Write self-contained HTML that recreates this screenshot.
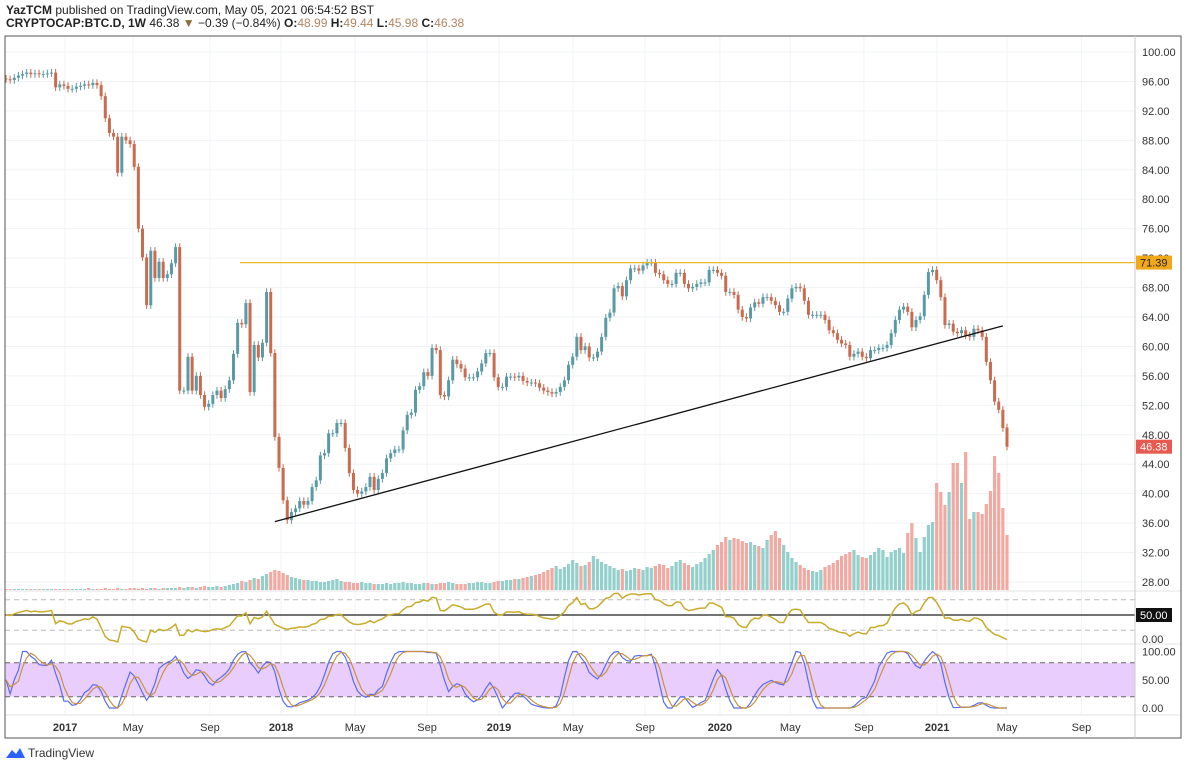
<!DOCTYPE html>
<html><head><meta charset="utf-8"><style>
html,body{margin:0;padding:0;background:#fff;}
body{width:1186px;height:768px;overflow:hidden;font-family:"Liberation Sans",sans-serif;}
svg text{font-family:"Liberation Sans",sans-serif;}
</style></head><body>
<svg id="chart" width="1186" height="768" viewBox="0 0 1186 768" xmlns="http://www.w3.org/2000/svg">
<text x="6" y="14" font-size="12" fill="#222"><tspan font-weight="bold">YazTCM</tspan> published on TradingView.com, May 05, 2021 06:54:52 BST</text>
<text x="6" y="27" font-size="12" fill="#222"><tspan font-weight="bold">CRYPTOCAP:BTC.D, 1W</tspan> 46.38 <tspan fill="#8d6e3b">▼</tspan> −0.39 (−0.84%) <tspan font-weight="bold">O:</tspan><tspan fill="#b08560">48.99</tspan> <tspan font-weight="bold">H:</tspan><tspan fill="#b08560">49.44</tspan> <tspan font-weight="bold">L:</tspan><tspan fill="#b08560">45.98</tspan> <tspan font-weight="bold">C:</tspan><tspan fill="#b08560">46.38</tspan></text>
<g id="grid"></g>
<g id="vol"></g>
<g id="candles"></g>
<g id="ind"></g>
<g id="axes"></g>
<rect x="5" y="36" width="1176" height="702" fill="none" stroke="#555" stroke-width="1"/>
<line x1="1135" y1="36" x2="1135" y2="738" stroke="#ccc"/>
<g>
<path d="M6 758 L12 750 L16 754 L20 748 L25 758 Z" fill="#2962ff"/>
<text x="28" y="757" font-size="12" fill="#333">TradingView</text>
</g>
</svg>
<script>
const closes=[96.3,96.2,96.5,96.8,97,97.2,97,97.1,97,97,97.1,97.2,
95.2,95.6,95.4,95,95,95.3,95.4,95.6,95.5,95.8,95.5,
94,91,89,88.5,83.6,88.5,88,87.5,84.4,76,72.1,65.6,73,69.3,71.5,69.3,69.8,71.3,73.5,
54,54,58.6,54,56,53.4,51.8,52.2,53.4,54,53,54.2,55.4,59,63.2,63,65.9,53.8,60.2,58.5,60.5,67.4,59.1,47.7,43.5,39.1,36.4,37.5,
38,39,38.5,39,40.9,41.8,45.2,45.5,48.2,48.2,49.6,49.6,46.2,42.8,40.5,40,40.3,40.9,42.3,40.5,
42,42.8,44.8,45.5,46,46,48.6,50.7,51,54.1,54.6,56.5,56,59.8,59.5,53.4,53.2,55.4,58.2,57.6,
57,55.8,55.8,55.8,56.6,57.7,59.1,59.1,55.8,54.5,54.5,55.9,55.9,55.8,56,55.3,55.1,55.1,55,54.4,
54,53.8,53.6,53.8,54.5,55.4,57.5,58.6,61.3,59.5,60,58.5,58.5,59.3,61.3,63.9,64.6,67.9,68.2,66.8,69,70.6,70.6,70.3,
71,71.4,71.4,70,69.8,69,68.5,68.5,70,70,68.5,67.9,68.1,68.5,68.7,68.7,70.4,70.4,70,69.6,
67.4,67.4,67,65,64,63.8,65.3,66,65.8,66.7,66.7,66.2,65.6,64.7,64.7,66.5,67.9,68.1,67.9,66.2,
64.3,64.3,64.3,64.3,63.6,62.2,61.8,60.9,60.4,60.2,58.6,59,59.3,58.6,58.4,59.5,59.5,59.8,59.8,60.2,
61.8,63.6,65,65.4,64.7,62.6,63.6,64.1,67,70.1,70.4,69,66.7,62.9,63.1,62,61.8,62.2,61.5,61.3,
62.4,62.2,61.3,57.9,55.4,52.5,51.4,48.9,46.38];
const firstOpen=96.4;
const lastOpen=48.99;
const volumes=[1,1,1,1,1,1,1,1,1,1,1,1,1,1,1,1,1,1,1,1,2,1,1,1,2,1,1,2,1,1,2,2,1,2,1,2,2,1,2,2,
2,2,3,2,3,3,2,3,4,3,3,4,3,4,5,
6,7,9,8,10,12,11,
14,16,18,20,19,17,15,13,
12,11,10,10,9,9,8,8,9,10,11,9,8,8,7,7,8,7,7,6,
6,6,7,6,7,7,8,7,7,6,6,7,7,6,6,7,7,8,7,6,6,6,7,7,8,8,7,7,8,9,9,10,10,11,11,12,13,14,15,16,
18,20,22,24,21,23,26,30,27,24,25,28,34,31,28,26,24,22,20,21,
19,20,22,21,20,23,22,24,26,25,22,24,28,30,27,25,23,26,28,32,
36,40,45,48,53,50,52,51,49,47,48,45,44,42,50,55,59,52,45,38,
32,28,25,22,20,19,18,20,23,25,27,30,34,36,38,40,35,33,32,35,38,42,
40,33,38,40,42,37,57,67,52,38,53,65,68,107,98,85,98,127,127,107,138,71,78,78,76,86,99,134,117,82,55];
const priceTicks=[100,96,92,88,84,80,76,72,68,64,60,56,52,48,44,40,36,32,28];
const timeLabels=["2017","May","Sep","2018","May","Sep","2019","May","Sep","2020","May","Sep","2021","May","Sep"];
const timeWeeks=[14.3,30.7,49.3,66.5,84.4,101.8,119.2,137.1,154.5,172.6,189.6,207.4,225.1,242,260];
const resistance=71.39;
const trendStart=[65,36.2];
const trendEnd=[241,62.8];

const NS="http://www.w3.org/2000/svg";
function mk(tag,attrs,parent){const e=document.createElementNS(NS,tag);for(const k in attrs)e.setAttribute(k,attrs[k]);parent.appendChild(e);return e;}
const N=closes.length;
const step=1001/242;
function xw(i){return 6+i*step;}
function yp(p){return 52+(100-p)*7.361;}
function yv(v){return 590-v;}
function yr(r){return 615-(r-50)*0.76;}
function ys(s){return 708-s*0.565;}
const grid=document.getElementById('grid'),vol=document.getElementById('vol'),cg=document.getElementById('candles'),ind=document.getElementById('ind'),ax=document.getElementById('axes');

priceTicks.forEach(p=>{
  const l=mk('line',{x1:5,x2:1135,y1:yp(p),y2:yp(p),stroke:'#f0f3f6'},grid);
  
  
  const t=mk('text',{x:1142,y:yp(p)+4,'font-size':11,fill:'#333'},ax);
  t.textContent=p.toFixed(2);
  
  
});
timeLabels.forEach((s,k)=>{
  const x=xw(timeWeeks[k]);
  const l=mk('line',{x1:x,x2:x,y1:36,y2:715,stroke:'#f0f3f6'},grid);
  
  
  const bold=/^\d/.test(s);
  const t=mk('text',{x:x,y:731,'font-size':11,'text-anchor':'middle',fill:'#333','font-weight':bold?'bold':'normal'},ax);
  t.textContent=s;
  
  
});
[591,644,715].forEach(y=>{const l=mk('line',{x1:5,x2:1181,y1:y,y2:y,stroke:'#e3e3e3'},grid);

});

for(let i=0;i<N;i++){
  const o=i===0?firstOpen:(i===N-1?lastOpen:closes[i-1]);
  const c=closes[i];
  const up=c>=o;
  const col=up?'#5a9aa6':'#c96b4f';
  const x=xw(i);
  const hi=Math.max(o,c)+0.5,lo=Math.min(o,c)-0.5;
  const w=mk('line',{x1:x,x2:x,y1:yp(hi),y2:yp(lo),stroke:col,'stroke-width':1},cg);
  
  
  const top=yp(Math.max(o,c)),bot=yp(Math.min(o,c));
  const r=mk('rect',{x:x-1.5,y:top,width:3,height:Math.max(1,bot-top),fill:col},cg);
  
  
  const v=mk('rect',{x:x-1.6,y:yv(volumes[i]),width:3.2,height:volumes[i],fill:up?'#93cfcb':'#f2a9a2'},vol);
  
  
}
const rl=mk('line',{x1:240,x2:1135,y1:yp(resistance),y2:yp(resistance),stroke:'#e8b923','stroke-width':1.2},cg);


const tl=mk('line',{x1:xw(trendStart[0]),y1:yp(trendStart[1]),x2:xw(trendEnd[0]),y2:yp(trendEnd[1]),stroke:'#111','stroke-width':1.3},cg);



const rsi=[];let ag=0.3,al=0.3;
for(let i=0;i<N;i++){
  if(i===0){rsi.push(50);continue;}
  const d=closes[i]-closes[i-1];const g=Math.max(d,0),l=Math.max(-d,0);
  ag=(ag*13+g)/14;al=(al*13+l)/14;
  rsi.push(al===0?100:100-100/(1+ag/al));
}
const srsi=[];for(let i=0;i<N;i++){const s=rsi.slice(Math.max(0,i-13),i+1);const mn=Math.min(...s),mx=Math.max(...s);srsi.push(mx===mn?50:(rsi[i]-mn)/(mx-mn)*100);}
const sma=(a,n)=>a.map((_,i)=>{const s=a.slice(Math.max(0,i-n+1),i+1);return s.reduce((p,q)=>p+q,0)/s.length;});
const K=sma(srsi,3),D=sma(K,3);

[70,30].forEach(v=>{const l=mk('line',{x1:5,x2:1135,y1:yr(v),y2:yr(v),stroke:'#bbb','stroke-dasharray':'5,4'},ind);

});
const ml=mk('line',{x1:5,x2:1135,y1:yr(50),y2:yr(50),stroke:'#222','stroke-width':1.2},ind);


const rp=mk('polyline',{points:rsi.map((r,i)=>xw(i)+','+Math.max(592,Math.min(642,yr(r)))).join(' '),fill:'none',stroke:'#c9ab2c','stroke-width':1.5},ind);



const band=mk('rect',{x:5,y:ys(80),width:1130,height:ys(20)-ys(80),fill:'#e9cdfd'},ind);


[80,20].forEach(v=>{const l=mk('line',{x1:5,x2:1135,y1:ys(v),y2:ys(v),stroke:'#666','stroke-dasharray':'5,4'},ind);

});
const kp=mk('polyline',{points:K.map((k,i)=>xw(i)+','+ys(k)).join(' '),fill:'none',stroke:'#5b6cf0','stroke-width':1.2},ind);


const dp=mk('polyline',{points:D.map((d,i)=>xw(i)+','+ys(d)).join(' '),fill:'none',stroke:'#c9923f','stroke-width':1.2},ind);



[[yr(50),'50.00'],[639,'0.00'],[ys(100),'100.00'],[ys(50),'50.00'],[ys(0),'0.00']].forEach(([y,s])=>{
  const t=mk('text',{x:1142,y:y+4,'font-size':11,fill:'#333'},ax);t.textContent=s;
  
  
});
function badge(y,txt,bg,fg,name){
  const g=mk('g',{},ax);
  
  
  mk('rect',{x:1136,y:y-7,width:36,height:14,fill:bg},g);
  const t=mk('text',{x:1140,y:y+4,'font-size':11,fill:fg},g);t.textContent=txt;
}
badge(yp(resistance),'71.39','#f0a81b','#222','resistance-price-label');
badge(yp(closes[N-1]),closes[N-1].toFixed(2),'#e85a4f','#fff','last-price-label');
badge(yr(50),'50.00','#111','#fff','rsi-50-label');
</script>
</body></html>
